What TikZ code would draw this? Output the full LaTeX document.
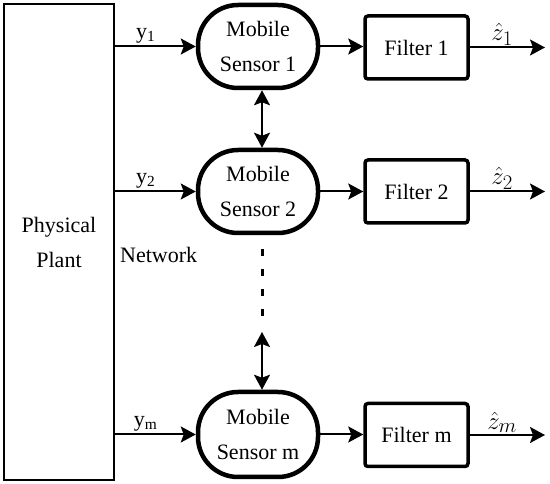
\documentclass[tikz,border=0pt]{standalone}
\usepackage{fontspec}
\setmainfont{Liberation Serif}
\usetikzlibrary{arrows.meta,calc}
\begin{document}
\begin{tikzpicture}[x=1pt,y=-1pt,
  font=\fontsize{22}{35}\selectfont,
  tip/.tip={Stealth[length=15pt,width=16pt,inset=3pt]},
  arr/.style={line width=2pt,-tip},
  darr/.style={line width=2pt,tip-tip},
  plantbox/.style={draw,line width=2pt,minimum width=110pt,minimum height=476pt,align=center,inner sep=0pt},
  sensorbox/.style={draw,line width=4.5pt,rounded corners=40pt,minimum width=120pt,minimum height=83pt,align=center,inner sep=0pt},
  filterbox/.style={draw,line width=3.5pt,rounded corners=3pt,minimum width=103pt,minimum height=63pt,inner sep=0pt},
  lbl/.style={above,inner sep=2pt},
  zlbl/.style={above,inner sep=1pt,font=\fontsize{28}{30}\selectfont}
]
\useasboundingbox (0,0) rectangle (550,484);
\node[plantbox] (plant) at (59,242) {Physical\\Plant};
\node[sensorbox] (s1) at (258,46.5) {Mobile\\Sensor 1};
\node[sensorbox] (s2) at (258,191.5) {Mobile\\Sensor 2};
\node[sensorbox,minimum height=85pt] (sm) at (258,434.5) {Mobile\\Sensor m};
\node[filterbox] (f1) at (416.5,47.5) {Filter 1};
\node[filterbox] (f2) at (416.5,191.5) {Filter 2};
\node[filterbox] (fm) at (416.5,435) {Filter m};
\node[anchor=west,inner sep=0pt] (net) at (120,255) {Network};
\coordinate (o1) at (545,47.5);
\coordinate (o2) at (545,191.5);
\coordinate (om) at (545,435);
\coordinate (d1) at (262,249.5);
\coordinate (d2) at (262,318);
\coordinate (da) at (262,332);
\draw[arr] (plant.east |- s1.west) -- node[lbl,pos=0.38] (ly1) {y\textsubscript{1}} (s1.west);
\draw[arr] (plant.east |- s2.west) -- node[lbl,pos=0.38] (ly2) {y\textsubscript{2}} (s2.west);
\draw[arr] (plant.east |- sm.west) -- node[lbl,pos=0.38] (lym) {y\textsubscript{m}} (sm.west);
\draw[arr] (s1.east) -- (f1.west |- s1.east);
\draw[arr] (s2.east) -- (f2.west |- s2.east);
\draw[arr] (sm.east) -- (fm.west |- sm.east);
\draw[arr] (f1.east) -- node[zlbl,pos=0.43] (lz1) {$\hat{z}_1$} (o1);
\draw[arr] (f2.east) -- node[zlbl,pos=0.43] (lz2) {$\hat{z}_2$} (o2);
\draw[arr] (fm.east) -- node[zlbl,pos=0.43] (lzm) {$\hat{z}_m$} (om);
\draw[darr] ([xshift=4pt]s1.south) -- ([xshift=4pt]s2.north);
\draw[line width=3pt,dash pattern=on 7pt off 13pt] (d1) -- (d2);
\draw[darr] (da) -- ([xshift=4pt]sm.north);
\end{tikzpicture}
\end{document}
